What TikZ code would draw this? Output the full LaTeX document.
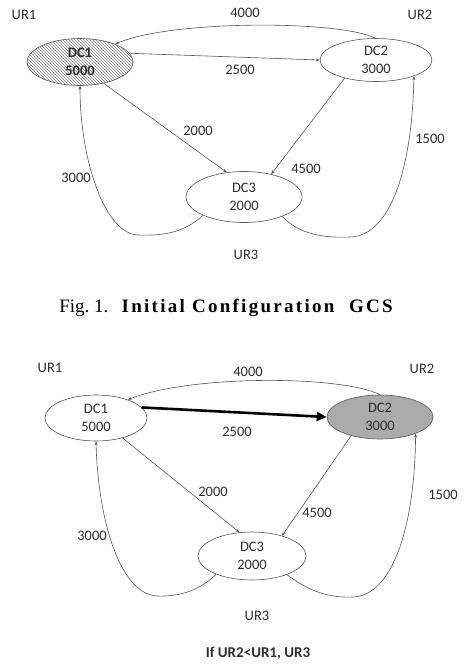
\documentclass[tikz,border=0pt]{standalone}
\usepackage{fontspec}
\setmainfont{Carlito}
\newfontfamily\capserif{Liberation Serif}
\usetikzlibrary{shapes.geometric,arrows.meta,patterns}
\definecolor{inkgray}{HTML}{2E2E2E}
\definecolor{linegray}{HTML}{555555}
\definecolor{dcfill}{HTML}{ABABAB}
\begin{document}
\begin{tikzpicture}[x=1pt,y=-1pt,
  dc/.style={ellipse, draw=linegray, line width=0.6pt, inner sep=0pt, align=center, text=inkgray, font=\fontsize{14.5}{18}\selectfont},
  lbl/.style={text=inkgray, inner sep=0pt, font=\fontsize{14.5}{18}\selectfont},
  link/.style={draw=linegray, line width=0.6pt, -{Stealth[length=4pt,width=3pt]}},
  heavy/.style={draw=black, line width=2.6pt, -{Triangle[length=10pt,width=9pt]}}]
\useasboundingbox (0,0) rectangle (470,670);

% Fig. 1
\node[dc, minimum width=106, minimum height=47, pattern=north west lines, pattern color=gray] (dcA) at (80,62) {\textbf{DC1}\\\textbf{5000}};
\node[dc, minimum width=112, minimum height=43] (dcB) at (376,60) {DC2\\3000};
\node[dc, minimum width=116, minimum height=51] (dcC) at (244,197) {DC3\\2000};
\node[lbl] (urA) at (24,15) {UR1};
\node[lbl] (urB) at (420,15) {UR2};
\node[lbl] (urC) at (246,255) {UR3};
\draw[link] (dcB.92) .. controls (340,20) and (170,20) .. (dcA.27);
\draw[link] (dcA.10) -- (dcB.west);
\draw[link] (dcA.-42) -- (dcC.125);
\draw[link] (dcB.-150) -- (dcC.40);
\draw[link] (dcC.-156) .. controls (185,232) and (165,236) .. (138,235) .. controls (105,234) and (80,160) .. (dcA.south);
\draw[link] (dcC.-27) .. controls (300,235) and (325,238) .. (350,237) .. controls (390,236) and (412,170) .. (dcB.-23);
\node[lbl] (wAB) at (245,13) {4000};
\node[lbl] (wBA) at (240,70) {2500};
\node[lbl] (wAC) at (198,131) {2000};
\node[lbl] (wBC) at (306,169) {4500};
\node[lbl] (wCA) at (76,178) {3000};
\node[lbl] (wCB) at (430,139) {1500};
\node[text=black, inner sep=0pt] (capA) at (226,308) {\capserif\fontsize{19}{22}\selectfont Fig.~1.\hspace{0.7em}{\bfseries\addfontfeatures{LetterSpace=12}Initial Configuration\hspace{0.4em} GCS}};

% after move
\node[dc, minimum width=102, minimum height=46] (dcD) at (96,418) {DC1\\5000};
\node[dc, minimum width=106, minimum height=44, fill=dcfill] (dcE) at (380,417) {DC2\\3000};
\node[dc, minimum width=108, minimum height=48] (dcF) at (252,556) {DC3\\2000};
\node[lbl] (urD) at (50,368) {UR1};
\node[lbl] (urE) at (422,369) {UR2};
\node[lbl] (urF) at (257,616) {UR3};
\draw[link] (dcE.90) .. controls (340,375) and (190,375) .. (dcD.30);
\draw[heavy] (dcD.13) -- (dcE.west);
\draw[link] (dcD.-37) -- (dcF.118);
\draw[link] (dcE.-147) -- (dcF.34);
\draw[link] (dcF.-153) .. controls (200,590) and (180,597) .. (157,596) .. controls (120,594) and (98,520) .. (dcD.south);
\draw[link] (dcF.-28) .. controls (310,592) and (330,598) .. (353,597) .. controls (395,595) and (415,520) .. (dcE.-25);
\node[lbl] (wDE) at (248,372) {4000};
\node[lbl] (wED) at (237,432) {2500};
\node[lbl] (wDF) at (213,492) {2000};
\node[lbl] (wEF) at (317,513) {4500};
\node[lbl] (wFD) at (92,536) {3000};
\node[lbl] (wFE) at (443,495) {1500};
\node[lbl, font=\fontsize{15}{18}\selectfont\bfseries] (capB) at (258,653) {If UR2<UR1, UR3};
\end{tikzpicture}
\end{document}
